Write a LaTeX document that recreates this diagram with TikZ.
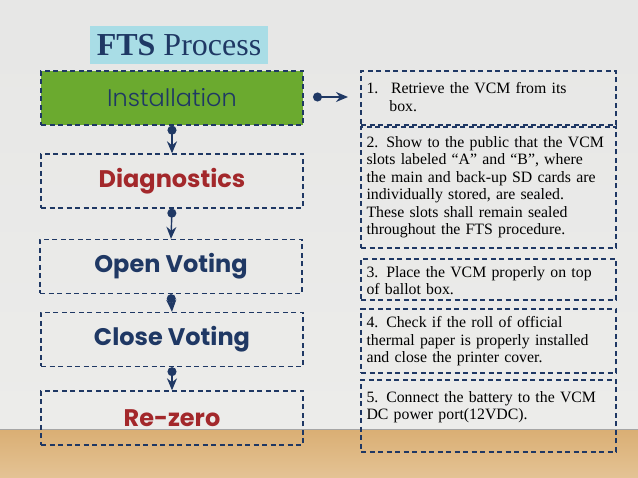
\documentclass[tikz,border=0pt]{standalone}
\usepackage{fontspec}
\setmainfont{Liberation Serif}
\newfontfamily\headfont{Poppins}
\newfontfamily\headfontlight[UprightFont=* Light]{Poppins}
\usetikzlibrary{arrows.meta,patterns}
\definecolor{navy}{HTML}{1F3864}
\definecolor{grn}{HTML}{6BAA2F}
\definecolor{redt}{HTML}{A3282B}
\definecolor{cyanbg}{HTML}{A9DDE6}
\definecolor{wall}{HTML}{ECECEA}
\definecolor{wood}{HTML}{DDB47A}
\tikzset{
  dsh/.style={draw=navy,dash pattern=on 5pt off 3.5pt,line width=1.3pt},
  stepbox/.style={dsh,minimum width=262pt,minimum height=54pt,inner sep=0pt},
  stepfont/.style={font=\headfont\fontsize{24}{26}\selectfont\bfseries},
  infobox/.style={dsh,minimum width=255pt,inner sep=0pt},
  infotext/.style={font=\fontsize{15.8}{17.5}\selectfont,align=left,text width=258pt},
  conn/.style={navy,line width=1.4pt,{Circle[length=9pt]}-{Stealth[length=12pt,width=10pt]}}
}
\begin{document}
\begin{tikzpicture}[x=1pt,y=-1pt]
\useasboundingbox (0,0) rectangle (638,478);
\shade[top color=wall!80!gray!60,bottom color=wall] (0,0) rectangle (638,430);
\shade[top color=wood!90!brown,bottom color=wood!80!white] (0,430) rectangle (638,478);
\draw[gray!70,line width=1pt] (0,430) -- (638,430);
% title
\node[fill=cyanbg,minimum width=178pt,minimum height=38pt,inner sep=0pt] (title) at (179,45)
  {\fontsize{32}{33}\selectfont\color{navy}\textbf{FTS} Process};
% steps
\node[stepbox,fill=grn,text=navy] (s1) at (172,98) {\headfontlight\fontsize{24}{26}\selectfont Installation};
\node[stepbox,stepfont,text=redt] (s2) at (172,181) {Diagnostics};
\node[stepbox,stepfont,text=navy] (s3) at (171,266.5) {Open Voting};
\node[stepbox,stepfont,text=navy] (s4) at (172,339.5) {Close Voting};
\node[stepbox,stepfont,text=redt] (s5) at (172,418) {Re-zero};
\draw[conn] (s1.south) -- (s2.north);
\draw[conn] (s2.south) -- (s3.north);
\draw[conn] (s3.south) -- (s4.north);
\draw[conn] (s4.south) -- (s5.north);
\coordinate (a0) at (313,97);
\coordinate (a1) at (348,97);
\draw[conn] (a0) -- (a1);
% info boxes
\node[infobox,minimum height=54pt] (b1) at (488.5,98) {};
\node[infotext,anchor=north west] (t1) at (363,79) {1.\hspace{0.8em}Retrieve the VCM from its\\\hspace{1.45em}box.};
\node[infobox,minimum height=121pt] (b2) at (488.5,187.5) {};
\node[infotext,anchor=north west] (t2) at (363,133) {2. Show to the public that the VCM\\slots labeled “A” and “B”, where\\the main and back-up SD cards are\\individually stored, are sealed.\\These slots shall remain sealed\\throughout the FTS procedure.};
\node[infobox,minimum height=41pt] (b3) at (488.5,279.5) {};
\node[infotext,anchor=north west] (t3) at (363,263) {3. Place the VCM properly on top\\of ballot box.};
\node[infobox,minimum height=64pt] (b4) at (488.5,341) {};
\node[infotext,anchor=north west] (t4) at (363,313) {4. Check if the roll of official\\thermal paper is properly installed\\and close the printer cover.};
\node[infobox,minimum height=72pt] (b5) at (488.5,416) {};
\node[infotext,anchor=north west] (t5) at (363,388) {5. Connect the battery to the VCM\\DC power port(12VDC).};
\end{tikzpicture}
\end{document}
